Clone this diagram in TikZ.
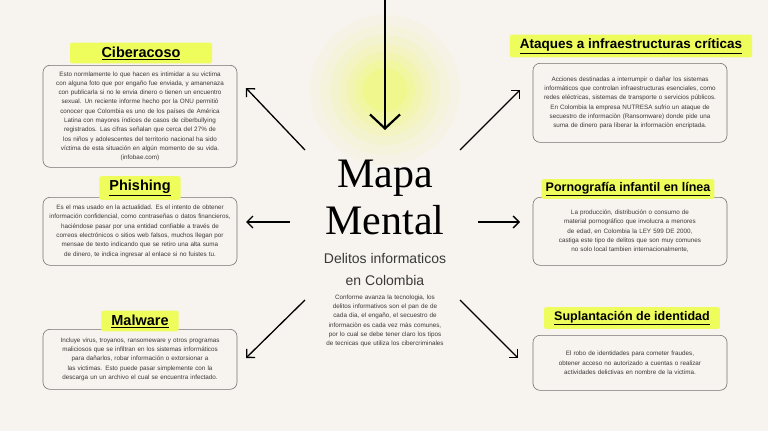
\documentclass[tikz,border=0pt]{standalone}
\usepackage{fontspec}
\setmainfont{Liberation Sans}
\newfontfamily\serifx{Liberation Serif}
\usetikzlibrary{arrows.meta}
\definecolor{bg}{HTML}{F7F3EE}
\definecolor{hl}{HTML}{EEFC5C}
\definecolor{txt}{HTML}{3A3A3A}
\tikzset{
 txtbox/.style={draw=black!55,line width=0.6pt,rounded corners=7pt,fill=bg,text width=#1,align=center,font=\fontsize{6.3}{9.3}\selectfont,text=txt,inner sep=3pt},
 title/.style={fill=hl,rounded corners=2pt,font=\bfseries\fontsize{14.5}{16}\selectfont,inner xsep=10pt,inner ysep=4pt},
 arr/.style={-{Straight Barb[length=6pt,width=12pt]},line width=1.3pt}
}
\begin{document}
\begin{tikzpicture}[x=1pt,y=-1pt]
\hyphenpenalty=10000 \exhyphenpenalty=10000
\useasboundingbox (0,0) rectangle (768,431);
\fill[bg] (0,0) rectangle (768,431);
\foreach \r/\o in {75/0.05,65/0.07,55/0.09,46/0.12,38/0.15,30/0.2,22/0.28}{\fill[hl,opacity=\o] (385,90) circle (\r);}
\node[font=\serifx\fontsize{42}{44}\selectfont] (mapa) at (385,178) {Mapa};
\node[font=\serifx\fontsize{42}{44}\selectfont] (mental) at (385,220) {Mental};
\node[font=\fontsize{14}{22}\selectfont,align=center,text=txt] (sub) at (385,269) {Delitos informaticos\\en Colombia};
\node[font=\fontsize{6.3}{9.3}\selectfont,text width=130,align=center,text=txt] (par) at (385,321) {\hyphenpenalty=10000 Conforme avanza la tecnologia, los delitos informativos son el pan de de cada dia, el engaño, el secuestro de informaciòn es cada vez màs comunes, por lo cual se debe tener claro los tipos de tecnicas que utiliza los cibercriminales};
\coordinate (top) at (385,0);
\draw[line width=2.2pt,-{Straight Barb[length=14pt,width=30pt]}] (top) -- (385,130);

\node[txtbox=176,minimum height=102,minimum width=194,anchor=north] (b1) at (140,65) {\hyphenpenalty=10000 Esto normlamente lo que hacen es intimidar a su victima con alguna foto que por engaño fue enviada, y amanenaza con publicarla si no le envia dinero o tienen un encuentro sexual. Un reciente informe hecho por la ONU permitió conocer que Colombia es uno de los países de América Latina con mayores índices de casos de ciberbullying registrados. Las cifras señalan que cerca del 27\% de los niños y adolescentes del territorio nacional ha sido víctima de esta situación en algún momento de su vida.\\(infobae.com)};
\node[title,minimum width=142] (t1) at (141,53) {\underline{Ciberacoso}};
\node[txtbox=184,minimum height=68,minimum width=194,anchor=north] (b2) at (140,197) {\hyphenpenalty=10000 Es el mas usado en la actualidad. Es el intento de obtener información confidencial, como contraseñas o datos financieros, haciéndose pasar por una entidad confiable a través de correos electrónicos o sitios web falsos, muchos llegan por mensae de texto indicando que se retiro una alta suma de dinero, te indica ingresar al enlace si no fuistes tu.};
\node[title] (t2) at (140,188) {\underline{Phishing}};
\node[txtbox=184,minimum height=60,minimum width=194,anchor=north] (b3) at (140,329) {\hyphenpenalty=10000 Incluye virus, troyanos, ransomeware y otros programas maliciosos que se infiltran en los sistemas informáticos para dañarlos, robar información o extorsionar a las victimas. Esto puede pasar simplemente con la descarga  un un archivo el cual se encuentra infectado.};
\node[title] (t3) at (140,321) {\underline{Malware}};

\node[txtbox=176,minimum height=79,minimum width=194,anchor=north] (b4) at (630,63) {\hyphenpenalty=10000 Acciones destinadas a interrumpir o dañar los sistemas informáticos que controlan infraestructuras esenciales, como redes eléctricas, sistemas de transporte o servicios públicos. En Colombia la empresa NUTRESA sufrio un ataque de secuestro de informaciòn (Ransomware) donde pide una suma de dinero para liberar la informaciòn encriptada.};
\node[title,font=\bfseries\fontsize{13.5}{15}\selectfont] (t4) at (631,46) {\underline{Ataques a infraestructuras críticas}};
\node[txtbox=170,minimum height=68,minimum width=194,anchor=north] (b5) at (630,197) {\hyphenpenalty=10000 La producción, distribución o consumo de material pornográfico que involucra a menores de edad, en Colombia la  LEY 599 DE 2000, castiga este tipo de delitos que son muy comunes no solo local tambien internacionalmente,\\[8pt]};
\node[title,font=\bfseries\fontsize{12.5}{14}\selectfont,inner ysep=3pt,inner xsep=4pt] (t5) at (628,189) {\underline{Pornografía infantil en línea}};
\node[txtbox=176,minimum height=55,minimum width=194,anchor=north] (b6) at (630,335) {\hyphenpenalty=10000 El robo de identidades para cometer fraudes, obtener acceso no autorizado a cuentas o realizar actividades delictivas en nombre de la victima.};
\node[title,font=\bfseries\fontsize{12.5}{14}\selectfont] (t6) at (632,318) {\underline{Suplantación de identidad}};

\coordinate (c1) at (305,150); \coordinate (c2) at (290,222); \coordinate (c3) at (305,300);
\coordinate (c4) at (460,150); \coordinate (c5) at (478,222); \coordinate (c6) at (460,300);
\draw[arr] (c1) -- (246,88);
\draw[arr] (c2) -- (246,222);
\draw[arr] (c3) -- (246,358);
\draw[arr] (c4) -- (520,90);
\draw[arr] (c5) -- (520,222);
\draw[arr] (c6) -- (518,358);
\end{tikzpicture}
\end{document}
